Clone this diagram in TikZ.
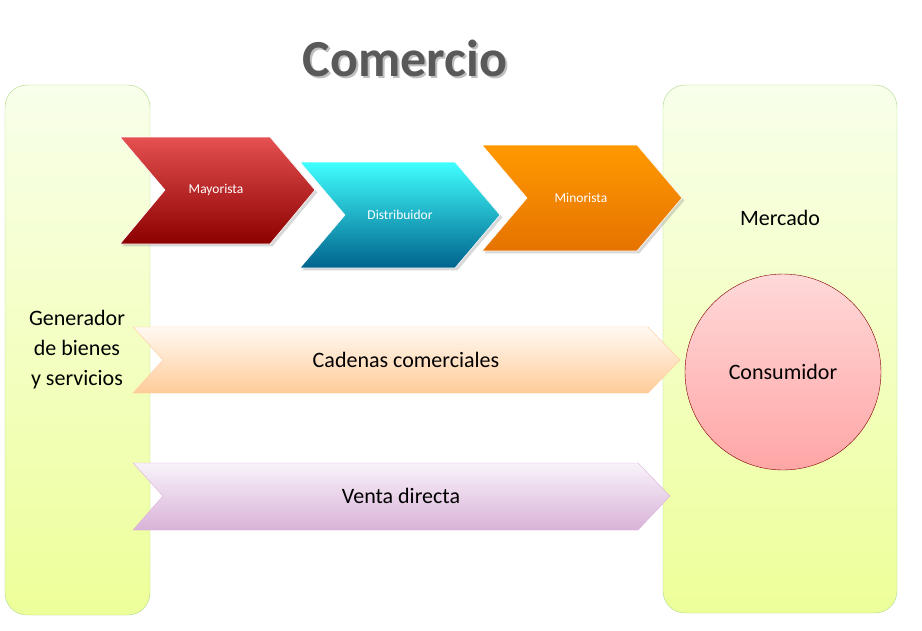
\documentclass[tikz,border=0pt]{standalone}
\usepackage{fontspec}
\setmainfont{Carlito}
\usetikzlibrary{shadows}
\begin{document}
\begin{tikzpicture}[x=1pt,y=-1pt,
  side/.style={draw=green!40!lime!50!gray!60, rounded corners=22pt, top color=green!10!lime!8, bottom color=green!25!lime!40!yellow!40},
  chev/.style={draw=white, line width=0.6pt, drop shadow={opacity=0.3}},
  lbl/.style={font=\fontsize{22}{24}\selectfont},
  sml/.style={text=white, font=\fontsize{13.5}{15}\selectfont}]
\useasboundingbox (0,0) rectangle (922,630);
\fill[white] (0,0) rectangle (922,630);
\node[side, minimum width=145pt, minimum height=530pt] (gen) at (77.5,350) {};
\node[side, minimum width=234pt, minimum height=528pt] (mer) at (780,349) {};
\node[font=\bfseries\fontsize{52}{56}\selectfont, text=black!25] (tsh) at (407,60) {Comercio};
\node[font=\bfseries\fontsize{52}{56}\selectfont, text=gray!70!black] (tit) at (405,58) {Comercio};
\node[align=center, font=\fontsize{22}{30}\selectfont] (gtxt) at (77,350) {Generador\\de bienes\\y servicios};
\node[lbl] (mtxt) at (780,218) {Mercado};
\path[chev, top color=red!65!white!90!black, bottom color=red!55!black]
  (120,137)--(270,137)--(315,190)--(270,244)--(120,244)--(165,190)--cycle;
\node[sml] (may) at (216,190) {Mayorista};
\path[chev, top color=cyan!75!white, bottom color=cyan!70!blue!55!black]
  (300,162)--(455,162)--(500,215)--(455,268)--(300,268)--(345,215)--cycle;
\node[sml] (dis) at (400,215) {Distribuidor};
\path[chev, top color=orange!80!yellow, bottom color=orange!90!black]
  (482,145)--(637,145)--(682,198)--(637,251)--(482,251)--(527,198)--cycle;
\node[sml] (min) at (581,198) {Minorista};
\path[draw=orange!40, top color=orange!5, bottom color=orange!40]
  (133,327)--(648,327)--(680,360)--(648,393)--(133,393)--(163,360)--cycle;
\node[lbl] (cad) at (406,360) {Cadenas comerciales};
\path[draw=violet!30, top color=violet!5, bottom color=violet!30]
  (133,463)--(638,463)--(670,496)--(638,530)--(133,530)--(163,496)--cycle;
\node[lbl] (ven) at (401,496) {Venta directa};
\node[circle, draw=red!50!black, minimum size=196pt, top color=red!15, bottom color=red!35, lbl] (con) at (783,372) {Consumidor};
\end{tikzpicture}
\end{document}
